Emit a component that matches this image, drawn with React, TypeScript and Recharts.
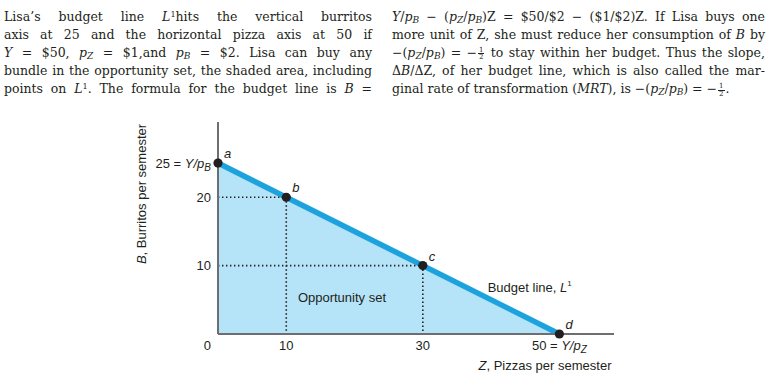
import React from "react";
import {
  Area,
  ComposedChart,
  ReferenceDot,
  ReferenceLine,
  Scatter,
  XAxis,
  YAxis,
} from "recharts";

// budget line L1: B = 25 - Z/2
const budgetZ = [0, 50];
const budgetB = [25, 0];
const bundleNames = ["a", "b", "c", "d"];
const bundleZ = [0, 10, 30, 50];
const bundleB = [25, 20, 10, 0];
const xTicks = [0, 10, 30, 50];
const yTicks = [10, 20, 25];
const guideBundles = ["b", "c"];

const budget = budgetZ.map((z, i) => ({ z, b: budgetB[i] }));
const bundles = bundleNames.map((name, i) => ({ name, z: bundleZ[i], b: bundleB[i] }));

const INK = "#231f20";
const AXIS = "#6d6e71";
const BLUE = "#1ca3de";
const FILL = "#b5e3f7";
const SANS = "'Liberation Sans', Arial, Helvetica, sans-serif";
const SERIF = "'DejaVu Serif', 'Liberation Serif', serif";

const Sub = ({ children }: { children: React.ReactNode }) => (
  <span style={{ fontSize: "0.72em", fontStyle: "italic", verticalAlign: "-0.25em", lineHeight: 0 }}>{children}</span>
);
const Sup = ({ children }: { children: React.ReactNode }) => (
  <span style={{ fontSize: "0.65em", verticalAlign: "0.5em", lineHeight: 0 }}>{children}</span>
);
const Half = () => (
  <span
    style={{
      display: "inline-flex",
      flexDirection: "column",
      alignItems: "center",
      fontSize: 7,
      lineHeight: "6.5px",
      verticalAlign: "5px",
      margin: "0 1px",
    }}
  >
    <span>1</span>
    <span style={{ borderTop: `0.8px solid ${INK}`, padding: "0 1px" }}>2</span>
  </span>
);

function Line({ children, last = false }: { children: React.ReactNode; last?: boolean }) {
  return (
    <div
      style={{
        height: 18.2,
        lineHeight: "18.2px",
        whiteSpace: "nowrap",
        textAlign: last ? "left" : "justify",
        textAlignLast: last ? "left" : "justify",
      }}
    >
      {children}
    </div>
  );
}

function XTick(props: any) {
  const { x, y, payload } = props;
  const v = payload.value;
  const base = { fill: INK, fontSize: 13, fontFamily: SANS };
  if (v === 0) {
    return (
      <text x={x - 7} y={y + 16} textAnchor="end" {...base}>
        0
      </text>
    );
  }
  if (v === 50) {
    return (
      <text x={x} y={y + 16} textAnchor="middle" {...base}>
        <tspan>50 = </tspan>
        <tspan fontStyle="italic">Y/p</tspan>
        <tspan fontStyle="italic" fontSize={10} dy={3}>Z</tspan>
      </text>
    );
  }
  return (
    <text x={x} y={y + 16} textAnchor="middle" {...base}>
      {v}
    </text>
  );
}

function YTick(props: any) {
  const { x, y, payload } = props;
  const v = payload.value;
  const base = { fill: INK, fontSize: 13, fontFamily: SANS };
  if (v === 25) {
    return (
      <text x={x - 7} y={y + 4.5} textAnchor="end" {...base}>
        <tspan>25 = </tspan>
        <tspan fontStyle="italic">Y/p</tspan>
        <tspan fontStyle="italic" fontSize={10} dy={3}>B</tspan>
      </text>
    );
  }
  return (
    <text x={x - 7} y={y + 4.5} textAnchor="end" {...base}>
      {v}
    </text>
  );
}

function BundleDot(props: any) {
  const { cx, cy, payload } = props;
  return (
    <g>
      <circle cx={cx} cy={cy} r={4.6} fill={INK} />
      <text x={cx + 6} y={cy - 5} fill={INK} fontSize={13} fontStyle="italic" fontFamily={SANS}>
        {payload.name}
      </text>
    </g>
  );
}

function YLabel(props: any) {
  const { viewBox } = props;
  const cx = viewBox.x - 17;
  const cy = viewBox.y + 72;
  return (
    <text
      x={cx}
      y={cy}
      transform={`rotate(-90 ${cx} ${cy})`}
      textAnchor="middle"
      dominantBaseline="central"
      fill={INK}
      fontSize={13}
      fontFamily={SANS}
    >
      <tspan fontStyle="italic">B</tspan>, Burritos per semester
    </text>
  );
}

function XLabel(props: any) {
  const { viewBox } = props;
  const cx = viewBox.x + viewBox.width - 69;
  const cy = viewBox.y + 36;
  return (
    <text x={cx} y={cy} textAnchor="middle" fill={INK} fontSize={13} fontFamily={SANS}>
      <tspan fontStyle="italic">Z</tspan>, Pizzas per semester
    </text>
  );
}

export default function App() {
  return (
    <div style={{ position: "absolute", left: 0, top: 0, width: 775, height: 377, background: "#fff", overflow: "hidden" }}>
      <ComposedChart
        width={775}
        height={377}
        data={budget}
        margin={{ top: 122, right: 161, left: 158, bottom: 13 }}
        style={{ position: "absolute", left: 0, top: 0 }}
      >
        <Area
          type="linear"
          dataKey="b"
          stroke={BLUE}
          strokeWidth={5.5}
          fill={FILL}
          fillOpacity={1}
          isAnimationActive={false}
        />
        {bundles
          .filter((p) => guideBundles.includes(p.name))
          .map((p) => (
            <ReferenceLine
              key={`h${p.name}`}
              segment={[{ x: 0, y: p.b }, { x: p.z, y: p.b }]}
              stroke={INK}
              strokeWidth={1.6}
              strokeDasharray="1.4 2.6"
            />
          ))}
        {bundles
          .filter((p) => guideBundles.includes(p.name))
          .map((p) => (
            <ReferenceLine
              key={`v${p.name}`}
              segment={[{ x: p.z, y: p.b }, { x: p.z, y: 0 }]}
              stroke={INK}
              strokeWidth={1.6}
              strokeDasharray="1.4 2.6"
            />
          ))}
        <XAxis
          dataKey="z"
          type="number"
          domain={[0, 58]}
          ticks={xTicks}
          tick={<XTick />}
          tickLine={false}
          tickSize={0}
          tickMargin={0}
          height={30}
          axisLine={{ stroke: AXIS, strokeWidth: 2 }}
          label={<XLabel />}
        />
        <YAxis
          type="number"
          domain={[0, 31]}
          ticks={yTicks}
          tick={<YTick />}
          tickLine={false}
          tickSize={0}
          tickMargin={0}
          width={60}
          axisLine={{ stroke: AXIS, strokeWidth: 2 }}
          label={<YLabel />}
        />
        <ReferenceDot
          x={11.7}
          y={4.75}
          r={0}
          shape={(p: any) => (
            <text x={p.cx} y={p.cy} fill={INK} fontSize={13} fontFamily={SANS}>
              Opportunity set
            </text>
          )}
        />
        <ReferenceDot
          x={39.5}
          y={6.1}
          r={0}
          shape={(p: any) => (
            <text x={p.cx} y={p.cy} fill={INK} fontSize={13} fontFamily={SANS}>
              <tspan>Budget line, </tspan>
              <tspan fontStyle="italic">L</tspan>
              <tspan fontSize={8} dy={-6}>1</tspan>
            </text>
          )}
        />
        <Scatter data={bundles} dataKey="b" shape={<BundleDot />} isAnimationActive={false} />
      </ComposedChart>

      <div
        style={{
          position: "absolute",
          left: 4,
          top: 7.5,
          width: 368,
          fontFamily: SERIF,
          fontSize: 12.5,
          color: INK,
        }}
      >
        <Line>
          Lisa’s budget line <i>L</i>
          <Sup>1</Sup>hits the vertical burritos
        </Line>
        <Line>axis at 25 and the horizontal pizza axis at 50 if</Line>
        <Line>
          <i>Y</i> = $50, <i>p</i>
          <Sub>Z</Sub> = $1,and <i>p</i>
          <Sub>B</Sub> = $2. Lisa can buy any
        </Line>
        <Line>bundle in the opportunity set, the shaded area, including</Line>
        <Line>
          points on <i>L</i>
          <Sup>1</Sup>. The formula for the budget line is <i>B</i> =
        </Line>
      </div>

      <div
        style={{
          position: "absolute",
          left: 392,
          top: 7.5,
          width: 373,
          fontFamily: SERIF,
          fontSize: 12.5,
          color: INK,
        }}
      >
        <Line>
          <i>Y</i>/<i>p</i>
          <Sub>B</Sub> − (<i>p</i>
          <Sub>Z</Sub>/<i>p</i>
          <Sub>B</Sub>)Z = $50/$2 − ($1/$2)Z. If Lisa buys one
        </Line>
        <Line>
          more unit of Z, she must reduce her consumption of <i>B</i> by
        </Line>
        <Line>
          −(<i>p</i>
          <Sub>Z</Sub>/<i>p</i>
          <Sub>B</Sub>) = −<Half /> to stay within her budget. Thus the slope,
        </Line>
        <Line>
          Δ<i>B</i>/ΔZ, of her budget line, which is also called the mar-
        </Line>
        <Line last>
          ginal rate of transformation (<i>MRT</i>), is −(<i>p</i>
          <Sub>Z</Sub>/<i>p</i>
          <Sub>B</Sub>) = −<Half />.
        </Line>
      </div>
    </div>
  );
}
